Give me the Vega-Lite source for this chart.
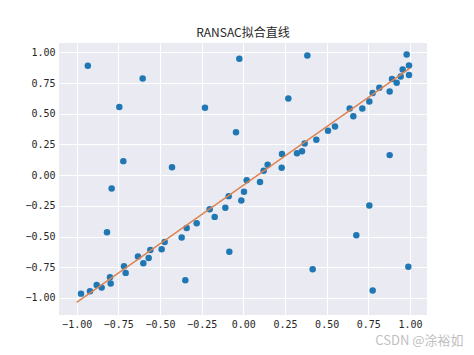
{
  "$schema": "https://vega.github.io/schema/vega-lite/v6.json",
  "autosize": "none",
  "padding": {"left": 59, "top": 43, "right": 47, "bottom": 40},
  "width": 368,
  "height": 272,
  "background": "white",
  "config": {
    "view": {"fill": "#EAEAF2", "stroke": null},
    "axis": {
      "grid": true, "gridColor": "white", "gridWidth": 1,
      "domain": false, "ticks": false,
      "labelFont": "DejaVu Sans Mono", "labelFontSize": 10, "labelColor": "#262626",
      "labelPadding": 4
    }
  },
  "title": {
    "text": "RANSAC拟合直线",
    "font": "Noto Sans CJK SC", "fontSize": 12, "fontWeight": "normal", "color": "#262626",
    "offset": 3
  },
  "datasets": {
    "pts": [
      {"x": -0.933, "y": 0.89}, {"x": -0.604, "y": 0.787}, {"x": -0.744, "y": 0.554},
      {"x": -0.23, "y": 0.549}, {"x": -0.024, "y": 0.948}, {"x": -0.044, "y": 0.35},
      {"x": -0.72, "y": 0.114}, {"x": -0.428, "y": 0.065}, {"x": 0.02, "y": -0.042},
      {"x": 0.384, "y": 0.975}, {"x": 0.98, "y": 0.983}, {"x": 0.994, "y": 0.893},
      {"x": 0.956, "y": 0.861}, {"x": 0.994, "y": 0.815}, {"x": 0.944, "y": 0.804},
      {"x": 0.892, "y": 0.782}, {"x": 0.92, "y": 0.752}, {"x": 0.878, "y": 0.681},
      {"x": 0.816, "y": 0.711}, {"x": 0.776, "y": 0.668}, {"x": 0.756, "y": 0.6},
      {"x": 0.27, "y": 0.624}, {"x": 0.638, "y": 0.543}, {"x": 0.66, "y": 0.48},
      {"x": 0.714, "y": 0.543}, {"x": 0.55, "y": 0.396}, {"x": 0.508, "y": 0.361},
      {"x": 0.438, "y": 0.288}, {"x": 0.368, "y": 0.258}, {"x": 0.352, "y": 0.195},
      {"x": 0.322, "y": 0.179}, {"x": 0.232, "y": 0.173}, {"x": 0.23, "y": 0.06},
      {"x": 0.146, "y": 0.084}, {"x": 0.122, "y": 0.036}, {"x": 0.878, "y": 0.163},
      {"x": 0.1, "y": -0.056}, {"x": -0.79, "y": -0.109}, {"x": 0.004, "y": -0.136},
      {"x": -0.088, "y": -0.171}, {"x": -0.012, "y": -0.207}, {"x": -0.108, "y": -0.266},
      {"x": -0.202, "y": -0.277}, {"x": -0.172, "y": -0.34}, {"x": -0.28, "y": -0.391},
      {"x": -0.34, "y": -0.43}, {"x": -0.37, "y": -0.508}, {"x": -0.472, "y": -0.544},
      {"x": -0.49, "y": -0.603}, {"x": -0.558, "y": -0.609}, {"x": -0.568, "y": -0.674},
      {"x": -0.6, "y": -0.717}, {"x": -0.632, "y": -0.663}, {"x": -0.084, "y": -0.623},
      {"x": -0.348, "y": -0.856}, {"x": -0.716, "y": -0.742}, {"x": -0.706, "y": -0.796},
      {"x": -0.8, "y": -0.831}, {"x": -0.796, "y": -0.883}, {"x": -0.818, "y": -0.465},
      {"x": -0.88, "y": -0.894}, {"x": -0.85, "y": -0.916}, {"x": -0.92, "y": -0.946},
      {"x": -0.974, "y": -0.965}, {"x": 0.756, "y": -0.248}, {"x": 0.678, "y": -0.489},
      {"x": 0.416, "y": -0.766}, {"x": 0.99, "y": -0.747}, {"x": 0.776, "y": -0.94}
    ],
    "fit": [
      {"x": -1.0, "y": -1.036},
      {"x": 1.0, "y": 0.872}
    ]
  },
  "encoding": {
    "x": {
      "field": "x", "type": "quantitative",
      "scale": {"domain": [-1.106, 1.102], "nice": false, "zero": false},
      "axis": {
        "values": [-1, -0.75, -0.5, -0.25, 0, 0.25, 0.5, 0.75, 1],
        "format": ".2f",
        "title": "CSDN @涂裕如",
        "titleFont": "Noto Sans CJK SC", "titleFontSize": 13, "titleFontWeight": "normal",
        "titleColor": "#c0c0c0", "titleAnchor": "end", "titleAlign": "right",
        "titleBaseline": "middle",
        "titleX": 404, "titleY": 25
      }
    },
    "y": {
      "field": "y", "type": "quantitative",
      "scale": {"domain": [-1.139, 1.076], "nice": false, "zero": false},
      "axis": {
        "values": [-1, -0.75, -0.5, -0.25, 0, 0.25, 0.5, 0.75, 1],
        "format": ".2f",
        "title": null
      }
    }
  },
  "layer": [
    {
      "data": {"name": "pts"},
      "mark": {"type": "circle", "size": 42, "color": "#1f77b4", "opacity": 1}
    },
    {
      "data": {"name": "fit"},
      "mark": {"type": "line", "color": "#dd8452", "strokeWidth": 1.5}
    }
  ]
}
